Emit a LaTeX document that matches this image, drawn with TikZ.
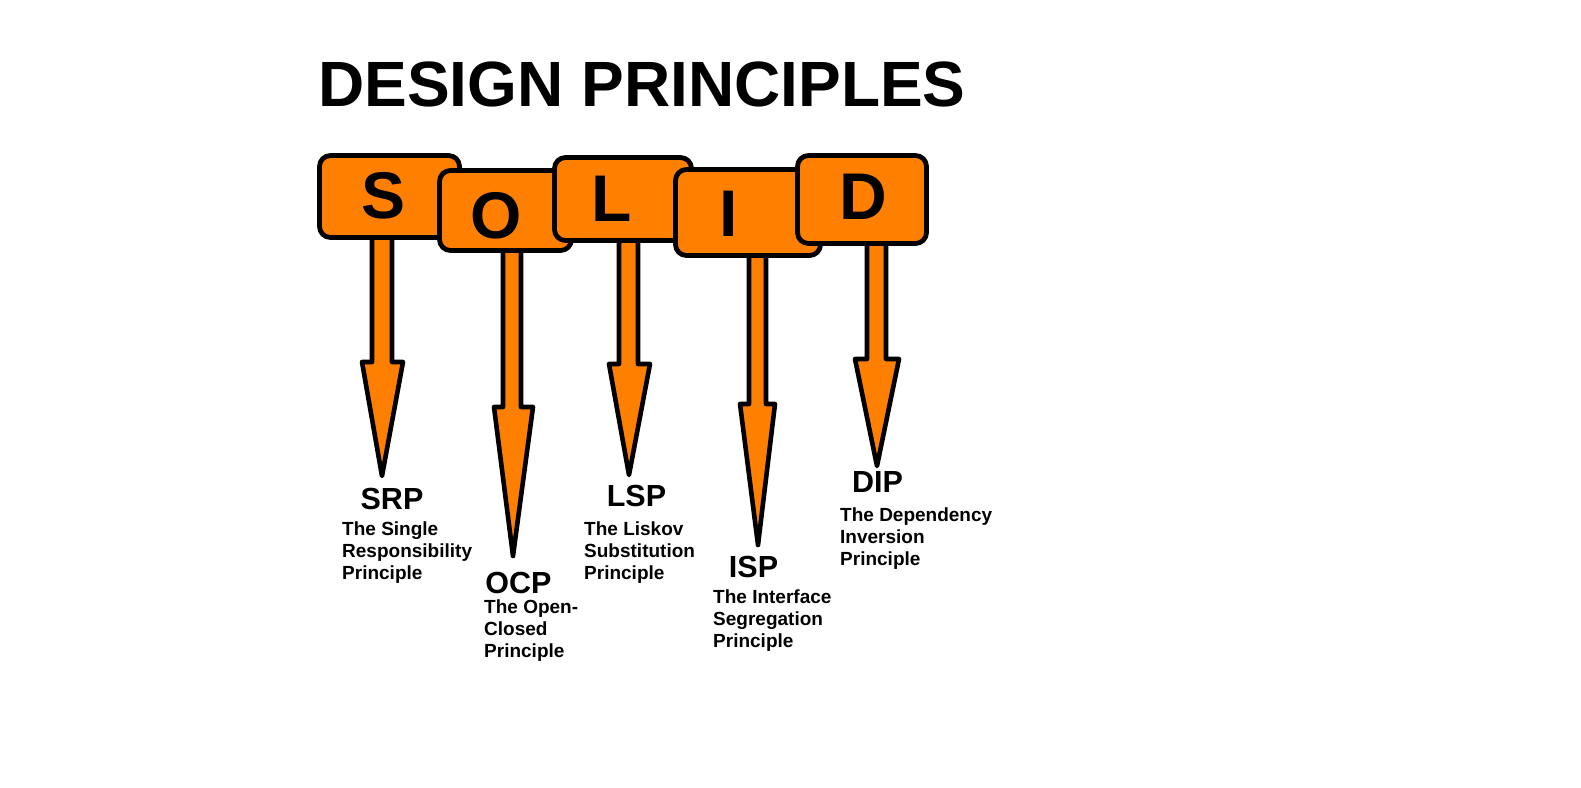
\documentclass[tikz,border=0pt]{standalone}
\usepackage{fontspec}
\setmainfont{Liberation Sans}
\definecolor{solidorange}{RGB}{255,128,0}
\begin{document}
\begin{tikzpicture}[x=1pt,y=-1pt,
  box/.style={draw=black, line width=4.8pt, fill=solidorange, rounded corners=11pt, inner sep=0pt},
  blockarrow/.style={draw=black, line width=4.6pt, fill=solidorange, line join=round},
  letter/.style={inner sep=0pt, font=\fontsize{66}{66}\selectfont\bfseries},
  abbr/.style={inner sep=0pt, font=\fontsize{30.5}{30.5}\selectfont\bfseries},
  desc/.style={inner sep=0pt, anchor=north west, align=left, font=\fontsize{19}{22}\selectfont\bfseries}]
\useasboundingbox (0,0) rectangle (1581,787);
\fill[white] (0,0) rectangle (1581,787);

% title
\node[inner sep=0pt, font=\fontsize{64}{64}\selectfont\bfseries] (title) at (642,84.5) {DESIGN PRINCIPLES};

% tip coordinates
\coordinate (tipS) at (382,476);
\coordinate (tipO) at (513,556);
\coordinate (tipL) at (629,475);
\coordinate (tipI) at (758,545);
\coordinate (tipD) at (877,466);

% block arrows (drawn below boxes)
\draw[blockarrow] (372,200) -- (372,362) -- (362,362) -- (tipS) -- (403,362) -- (392,362) -- (392,200) -- cycle;
\draw[blockarrow] (503,215) -- (503,407) -- (494,407) -- (tipO) -- (533,407) -- (521,407) -- (521,215) -- cycle;
\draw[blockarrow] (619,200) -- (619,364) -- (609,364) -- (tipL) -- (650,364) -- (638,364) -- (638,200) -- cycle;
\draw[blockarrow] (749,215) -- (749,404) -- (740,404) -- (tipI) -- (775,404) -- (766,404) -- (766,215) -- cycle;
\draw[blockarrow] (867,200) -- (867,359) -- (855,359) -- (tipD) -- (899,359) -- (886,359) -- (886,200) -- cycle;

% boxes and letters
\node[box, minimum width=140pt, minimum height=82pt] (boxS) at (389.5,196.5) {};
\node[letter] (letS) at (384,196) {S};
\node[box, minimum width=132pt, minimum height=80pt] (boxO) at (505.5,210.5) {};
\node[letter] (letO) at (496,215.5) {O};
\node[box, minimum width=137pt, minimum height=83pt] (boxL) at (623,199) {};
\node[letter] (letL) at (612,198.5) {L};
\node[box, minimum width=145pt, minimum height=86pt] (boxI) at (748,212.5) {};
\node[letter] (letI) at (729,213.5) {I};
\node[box, minimum width=129pt, minimum height=88pt] (boxD) at (862,199.5) {};
\node[letter] (letD) at (863,197) {D};

% abbreviations
\node[abbr] (srp) at (392,499) {SRP};
\node[abbr] (ocp) at (518.5,582.5) {OCP};
\node[abbr] (lsp) at (636.5,496) {LSP};
\node[abbr] (isp) at (753.5,566.5) {ISP};
\node[abbr] (dip) at (877.5,482.5) {DIP};

% descriptions
\node[desc] (srpd) at (342,522) {The Single\\Responsibility\\Principle};
\node[desc] (ocpd) at (484,600) {The Open-\\Closed\\Principle};
\node[desc] (lspd) at (584,522) {The Liskov\\Substitution\\Principle};
\node[desc] (ispd) at (713,590) {The Interface\\Segregation\\Principle};
\node[desc] (dipd) at (840,508) {The Dependency\\Inversion\\Principle};
\end{tikzpicture}
\end{document}
